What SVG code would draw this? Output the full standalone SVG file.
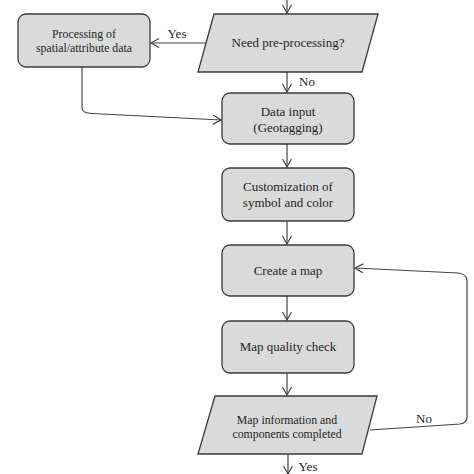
<svg xmlns="http://www.w3.org/2000/svg" width="474" height="474" viewBox="0 0 474 474">
<style>
.box{fill:#dadada;stroke:#3a3a3a;stroke-width:1.3}
.t{font-family:'Liberation Serif','Times New Roman',serif;font-size:13px;fill:#1e1e1e;text-anchor:middle}
.s{font-size:11.8px}
.p{font-size:11.8px}
.c{fill:none;stroke:#444;stroke-width:1.2}
</style>
<defs>
<marker id="a" markerUnits="userSpaceOnUse" markerWidth="12" markerHeight="12" refX="9" refY="5" orient="auto">
<path d="M1,0.5 L9,5 L1,9.5" fill="none" stroke="#444" stroke-width="1.2"/>
</marker>
</defs>
<rect width="474" height="474" fill="#fff"/>
<g id="connectors">
<path class="c" d="M287,0 V13" marker-end="url(#a)"/>
<path class="c" d="M206,43 H151" marker-end="url(#a)"/>
<path class="c" d="M287,72 V92" marker-end="url(#a)"/>
<path class="c" d="M82,67 V108 Q82,113 92,113.5 L221,120" marker-end="url(#a)"/>
<path class="c" d="M287,144 V167" marker-end="url(#a)"/>
<path class="c" d="M287,221 V244" marker-end="url(#a)"/>
<path class="c" d="M287,296 V320" marker-end="url(#a)"/>
<path class="c" d="M287,373 V395" marker-end="url(#a)"/>
<path class="c" d="M288,454 V474" marker-end="url(#a)"/>
<path class="c" d="M370,430 L460,424 Q467,423 467,417 V281 Q467,274 458,273 L355,268" marker-end="url(#a)"/>
<text class="t" x="177" y="38">Yes</text>
<text class="t" x="307" y="86">No</text>
<text class="t" x="424" y="423">No</text>
<text class="t" x="308" y="471">Yes</text>
</g>
<g id="n1">
<polygon class="box" points="214,14 378,14 362,72 198,72"/>
<text class="t" x="288" y="47">Need pre-processing?</text>
</g>
<g id="n2">
<rect class="box" x="18" y="14" width="132" height="53" rx="8"/>
<text class="t p" x="84" y="38">Processing of</text>
<text class="t p" x="84" y="52">spatial/attribute data</text>
</g>
<g id="n3">
<rect class="box" x="222" y="93" width="132" height="51" rx="8"/>
<text class="t" x="288" y="116">Data input</text>
<text class="t" x="288" y="132">(Geotagging)</text>
</g>
<g id="n4">
<rect class="box" x="222" y="168" width="132" height="53" rx="8"/>
<text class="t" x="288" y="191">Customization of</text>
<text class="t" x="288" y="207">symbol and color</text>
</g>
<g id="n5">
<rect class="box" x="222" y="245" width="132" height="51" rx="8"/>
<text class="t" x="288" y="275">Create a map</text>
</g>
<g id="n6">
<rect class="box" x="222" y="321" width="132" height="52" rx="8"/>
<text class="t" x="288" y="351">Map quality check</text>
</g>
<g id="n7">
<polygon class="box" points="215,396 377,396 362,454 198,454"/>
<text class="t s" x="287" y="424">Map information and</text>
<text class="t s" x="287" y="438">components completed</text>
</g>
</svg>
